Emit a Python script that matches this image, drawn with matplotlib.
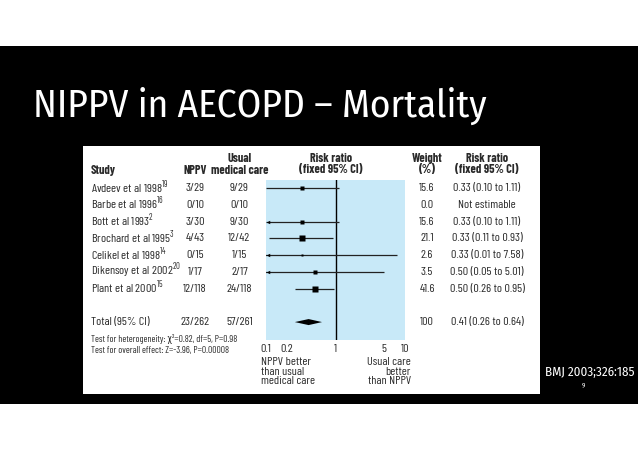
import numpy as np
import matplotlib
matplotlib.use("Agg")
import matplotlib.pyplot as plt
from matplotlib import transforms
from matplotlib.patches import Rectangle

# Forest plot data (BMJ 2003;326:185)
studies = ["Avdeev et al 1998", "Barbe et al 1996", "Bott et al 1993", "Brochard et al 1995",
           "Celikel et al 1998", "Dikensoy et al 2002", "Plant et al 2000"]
refs = ["19", "16", "2", "3", "14", "20", "15"]
nppv = ["3/29", "0/10", "3/30", "4/43", "0/15", "1/17", "12/118"]
usual = ["9/29", "0/10", "9/30", "12/42", "1/15", "2/17", "24/118"]
weight = [15.6, 0.0, 15.6, 21.1, 2.6, 3.5, 41.6]
rr = [0.33, np.nan, 0.33, 0.33, 0.33, 0.50, 0.50]
lo = [0.10, np.nan, 0.10, 0.11, 0.01, 0.05, 0.26]
hi = [1.11, np.nan, 1.11, 0.93, 7.58, 5.01, 0.95]
clipped = [False, False, True, False, True, True, False]

total_nppv, total_usual = "23/262", "57/261"
total_rr, total_lo, total_hi = 0.41, 0.26, 0.64

xticks = [0.1, 0.2, 1, 5, 10]
xticklabels = ["0.1", "0.2", "1", "5", "10"]

W, H = 638, 451
fig = plt.figure(figsize=(W / 100, H / 100), dpi=100)
fig.patch.set_facecolor("white")

plt.rcParams["mathtext.fontset"] = "custom"
plt.rcParams["mathtext.rm"] = "Barlow Condensed"

slide_fam = ["Fira Sans Condensed", "Encode Sans Condensed", "DejaVu Sans"]
fam = ["Barlow Condensed", "Roboto Condensed", "DejaVu Sans"]

def fx(x):
    return x / W

def fy(y):
    return 1 - y / H

def fit_width(t, target):
    # shrink/grow a text so it spans the same width as in the slide
    r = fig.canvas.get_renderer()
    w = t.get_window_extent(r).width
    t.set_fontsize(t.get_fontsize() * target / w)

# slide background
fig.patches.append(Rectangle((0, fy(404)), 1, (404 - 46) / H, transform=fig.transFigure,
                             facecolor="black", edgecolor="none", zorder=-3))
fig.patches.append(Rectangle((fx(83), fy(394)), (540 - 83) / W, (394 - 146) / H,
                             transform=fig.transFigure, facecolor="white", edgecolor="none", zorder=-2))

title = fig.text(fx(33), fy(117), "NIPPV in AECOPD \u2013 Mortality", color="white", family=slide_fam,
                 fontweight="normal", fontsize=30, va="baseline", ha="left")
fit_width(title, 453)
src = fig.text(fx(545), fy(372), "BMJ 2003;326:185", color="white", family=slide_fam, fontsize=9,
               fontweight="normal", va="center", ha="left")
fit_width(src, 89)
fig.text(fx(583), fy(385), "9", color="white", family=slide_fam, fontsize=5, va="center", ha="center")

# forest axes
ax = fig.add_axes([fx(266), fy(340), (405 - 266) / W, (340 - 180) / H])
ax.set_zorder(1)
ax.set_facecolor("#c8e9f8")
ax.set_xscale("log")
ax.set_xlim(0.1, 10)
ax.set_ylim(9.07, -0.48)
for s in ax.spines.values():
    s.set_visible(False)
ax.set_yticks([])
ax.set_xticks(xticks)
ax.set_xticklabels(xticklabels)
ax.minorticks_off()
ax.tick_params(axis="x", length=0, pad=3, labelsize=8.8, labelcolor="#2a2a2a")
for t in ax.get_xticklabels():
    t.set_family(fam)

ax.axvline(1, color="black", lw=1.0)

rows = np.arange(len(studies))
for i in rows:
    if np.isnan(rr[i]):
        continue
    ax.plot([lo[i], hi[i]], [i, i], color="#222222", lw=0.9, solid_capstyle="butt")
    ms = (1.6 + 0.8 * np.sqrt(weight[i])) * 0.72
    ax.plot(rr[i], i, marker="s", ms=ms, color="black", mec="none")
    if clipped[i]:
        ax.plot(0.106, i, marker="<", ms=2.5, color="black", mec="none")

ty = len(studies) + 1
half = 0.18
ax.fill([total_lo, total_rr, total_hi, total_rr], [ty, ty - half, ty, ty + half], color="black", lw=0)

# table text
tc = "#2a2a2a"
fs = 8.8
tr = transforms.blended_transform_factory(fig.transFigure, ax.transData)

for i in rows:
    ax.text(fx(91), i, f"{studies[i]}$^{{{refs[i]}}}$", transform=tr, ha="left", va="center",
            family=fam, fontsize=fs, color=tc)
    ax.text(fx(195), i, nppv[i], transform=tr, ha="center", va="center", family=fam, fontsize=fs, color=tc)
    ax.text(fx(239.5), i, usual[i], transform=tr, ha="center", va="center", family=fam, fontsize=fs, color=tc)
    ax.text(fx(427), i, f"{weight[i]:.1f}", transform=tr, ha="center", va="center", family=fam,
            fontsize=fs, color=tc)
    if np.isnan(rr[i]):
        lab = "Not estimable"
    else:
        lab = f"{rr[i]:.2f} ({lo[i]:.2f} to {hi[i]:.2f})"
    ax.text(fx(487), i, lab, transform=tr, ha="center", va="center", family=fam, fontsize=fs, color=tc)

ax.text(fx(91), ty, "Total (95% CI)", transform=tr, ha="left", va="center", family=fam, fontsize=fs, color=tc)
ax.text(fx(195), ty, total_nppv, transform=tr, ha="center", va="center", family=fam, fontsize=fs, color=tc)
ax.text(fx(239.5), ty, total_usual, transform=tr, ha="center", va="center", family=fam, fontsize=fs, color=tc)
ax.text(fx(427), ty, "100", transform=tr, ha="center", va="center", family=fam, fontsize=fs, color=tc)
ax.text(fx(487), ty, f"{total_rr:.2f} ({total_lo:.2f} to {total_hi:.2f})", transform=tr, ha="center",
        va="center", family=fam, fontsize=fs, color=tc)

# headers
hkw = dict(family=fam, fontsize=fs, color=tc, fontweight="bold", va="center")
fig.text(fx(91), fy(170), "Study", ha="left", **hkw)
fig.text(fx(195.5), fy(170), "NPPV", ha="center", **hkw)
fig.text(fx(240), fy(158), "Usual", ha="center", **hkw)
fig.text(fx(240), fy(170), "medical care", ha="center", **hkw)
fig.text(fx(331), fy(158), "Risk ratio", ha="center", **hkw)
fig.text(fx(331), fy(170), "(fixed 95% CI)", ha="center", **hkw)
fig.text(fx(427), fy(158), "Weight", ha="center", **hkw)
fig.text(fx(427), fy(170), "(%)", ha="center", **hkw)
fig.text(fx(487), fy(158), "Risk ratio", ha="center", **hkw)
fig.text(fx(487), fy(170), "(fixed 95% CI)", ha="center", **hkw)

# tests
fig.text(fx(91), fy(339), "Test for heterogeneity: \u03c7\u00b2=0.82, df=5, P=0.98", ha="left", va="center",
         family=fam, fontsize=6.9, color=tc)
fig.text(fx(91), fy(351), "Test for overall effect: Z=-3.96, P=0.00008", ha="left", va="center",
         family=fam, fontsize=6.9, color=tc)

fig.text(fx(261), fy(357), "NPPV better\nthan usual\nmedical care", ha="left", va="top",
         family=fam, fontsize=fs, color=tc, linespacing=0.95)
fig.text(fx(411), fy(357), "Usual care\nbetter\nthan NPPV", ha="right", va="top",
         family=fam, fontsize=fs, color=tc, linespacing=0.95, multialignment="right")

fig.savefig("out.png", dpi=100)
